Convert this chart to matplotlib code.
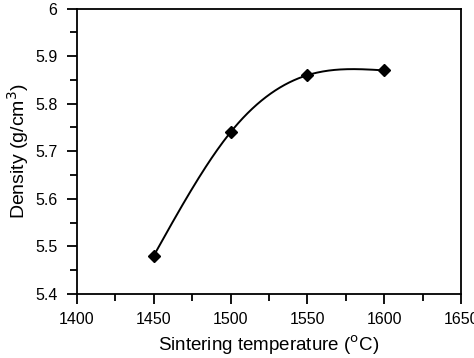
import numpy as np
import matplotlib
matplotlib.use("Agg")
import matplotlib.pyplot as plt
from matplotlib.ticker import MultipleLocator

# data
temperature = [1450, 1500, 1550, 1600]
density = [5.48, 5.74, 5.86, 5.87]


def natural_spline(x, y, xs):
    # natural cubic spline through the points, for the smooth connecting line
    x = np.asarray(x, float)
    y = np.asarray(y, float)
    n = len(x)
    h = np.diff(x)
    A = np.zeros((n, n))
    b = np.zeros(n)
    A[0, 0] = A[-1, -1] = 1
    for i in range(1, n - 1):
        A[i, i - 1] = h[i - 1]
        A[i, i] = 2 * (h[i - 1] + h[i])
        A[i, i + 1] = h[i]
        b[i] = 6 * ((y[i + 1] - y[i]) / h[i] - (y[i] - y[i - 1]) / h[i - 1])
    M = np.linalg.solve(A, b)
    out = np.empty_like(xs)
    for k, xv in enumerate(xs):
        i = min(np.searchsorted(x, xv, side="right") - 1, n - 2)
        t1 = x[i + 1] - xv
        t0 = xv - x[i]
        out[k] = (M[i] * t1**3 + M[i + 1] * t0**3) / (6 * h[i]) \
            + (y[i] / h[i] - M[i] * h[i] / 6) * t1 \
            + (y[i + 1] / h[i] - M[i + 1] * h[i] / 6) * t0
    return out


plt.rcParams['font.family'] = ['Liberation Sans', 'DejaVu Sans']

fig = plt.figure(figsize=(4.74, 3.58), dpi=100)
ax = fig.add_axes([0.162, 0.179, 0.811, 0.797])

xs = np.linspace(temperature[0], temperature[-1], 200)
ax.plot(xs, natural_spline(temperature, density, xs), color='black', lw=1.4)
ax.plot(temperature, density, linestyle='none', marker='D', color='black', ms=6)

ax.set_xlim(1400, 1650)
ax.set_ylim(5.4, 6.0)
ax.xaxis.set_major_locator(MultipleLocator(50))
ax.xaxis.set_minor_locator(MultipleLocator(25))
ax.yaxis.set_minor_locator(MultipleLocator(0.05))
ax.set_yticks(np.arange(5.4, 6.01, 0.1))
ax.set_yticklabels(['5.4', '5.5', '5.6', '5.7', '5.8', '5.9', '6'])

ax.tick_params(which='both', direction='out', width=1.3, labelsize=11.5,
               top=False, right=False)
ax.tick_params(which='major', length=7)
ax.tick_params(which='minor', length=5)
ax.tick_params(axis='x', which='major', pad=6)
ax.tick_params(axis='y', which='major', pad=7)
for s in ax.spines.values():
    s.set_linewidth(1.3)

ax.set_xlabel('Sintering temperature ($^{\\mathrm{o}}$C)', fontsize=13.5, labelpad=5)
ax.set_ylabel('Density (g/cm$^{3}$)', fontsize=14, labelpad=3)

fig.savefig('out.png', dpi=100)
